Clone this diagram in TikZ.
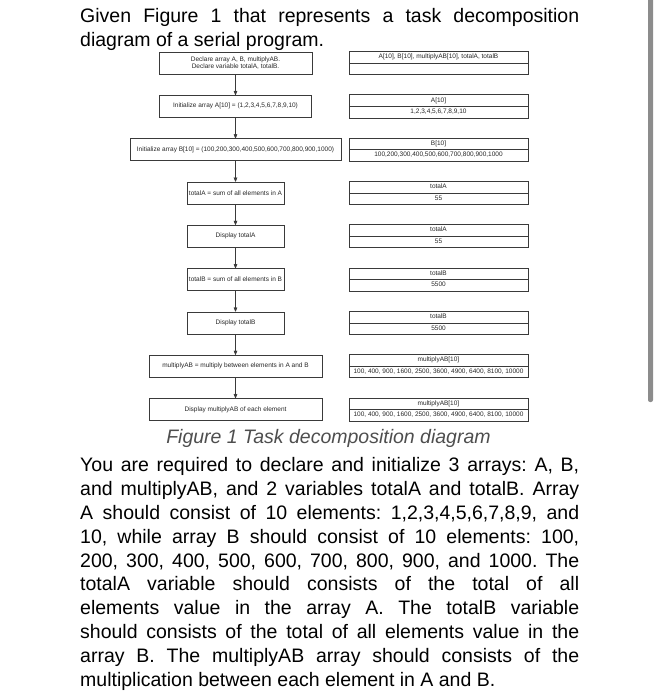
\documentclass[tikz,border=0pt]{standalone}
\usepackage{fontspec}
\setmainfont{Liberation Sans}
\usetikzlibrary{positioning}
\usetikzlibrary{arrows}
\usetikzlibrary{shapes.multipart}
\definecolor{boxline}{HTML}{3A3A3A}
\definecolor{captiongray}{HTML}{4E4E4E}
\definecolor{scrollgray}{HTML}{8C8C8C}
\newcommand{\memfont}{\fontsize{6.5}{7.8}\selectfont}
\newcommand{\memtext}[2]{\memfont\strut #1\nodepart{two}\memfont\strut #2}
\tolerance=10000
\hbadness=10000
\frenchspacing
\tikzset{x=1pt,y=-1pt, % One unit is one pixel of the page, y runs down
    para/.style=
    { % Sets the properties for the running text
        inner sep=0pt,
        text width=499pt,
        align=justify,
        font=\fontsize{19.5}{23.8}\selectfont
    },
    task/.style=
    { % Sets the properties for each task box
        draw=boxline,
        line width=0.6pt,
        minimum height=22pt,
        inner sep=1pt,
        align=center,
        text=black!85,
        font=\memfont
    },
    memory/.style=
    { % Sets the properties for each memory box
        rectangle split,
        rectangle split parts=2,
        draw=boxline,
        line width=0.6pt,
        minimum width=179pt,
        inner xsep=2pt,
        inner ysep=1.6pt,
        text=black!85
    },
    every edge/.style={ % Sets the properties for each step arrow
        draw=boxline,
        ->,>=stealth',
        line width=0.6pt
    }
}
\begin{document}
\begin{tikzpicture}
\useasboundingbox (0,0) rectangle (659,700);

\node [para,anchor=north west] (title) at (80,8.5)
    {Given Figure 1 that represents a task decomposition\linebreak diagram of a serial program.};

% task steps
\node [task,minimum width=153pt] (t1) at (235.5,63)   {Declare array A, B, multiplyAB.\\Declare variable totalA, totalB.};
\node [task,minimum width=152pt] (t2) at (235.5,106.3) {Initialize array A[10] = (1,2,3,4,5,6,7,8,9,10)};
\node [task,minimum width=211pt] (t3) at (235.5,149.6) {Initialize array B[10] = (100,200,300,400,500,600,700,800,900,1000)};
\node [task,minimum width=97pt]  (t4) at (235.5,192.9) {totalA = sum of all elements in A};
\node [task,minimum width=97pt]  (t5) at (235.5,236.2) {Display totalA};
\node [task,minimum width=97pt]  (t6) at (235.5,279.5) {totalB = sum of all elements in B};
\node [task,minimum width=97pt]  (t7) at (235.5,322.8) {Display totalB};
\node [task,minimum width=173pt] (t8) at (235.5,366.1) {multiplyAB = multiply between elements in A and B};
\node [task,minimum width=173pt] (t9) at (235.5,409.4) {Display multiplyAB of each element};

\draw
    (t1) edge (t2)
    (t2) edge (t3)
    (t3) edge (t4)
    (t4) edge (t5)
    (t5) edge (t6)
    (t6) edge (t7)
    (t7) edge (t8)
    (t8) edge (t9);

% memory after each step
\node [memory] (m1) at (438.5,63)    {\memtext{A[10], B[10], multiplyAB[10], totalA, totalB}{}};
\node [memory] (m2) at (438.5,106.3) {\memtext{A[10]}{1,2,3,4,5,6,7,8,9,10}};
\node [memory] (m3) at (438.5,149.6) {\memtext{B[10]}{100,200,300,400,500,600,700,800,900,1000}};
\node [memory] (m4) at (438.5,192.9) {\memtext{totalA}{55}};
\node [memory] (m5) at (438.5,236.2) {\memtext{totalA}{55}};
\node [memory] (m6) at (438.5,279.5) {\memtext{totalB}{5500}};
\node [memory] (m7) at (438.5,322.8) {\memtext{totalB}{5500}};
\node [memory] (m8) at (438.5,366.1) {\memtext{multiplyAB[10]}{100, 400, 900, 1600, 2500, 3600, 4900, 6400, 8100, 10000}};
\node [memory] (m9) at (438.5,409.4) {\memtext{multiplyAB[10]}{100, 400, 900, 1600, 2500, 3600, 4900, 6400, 8100, 10000}};

\node [anchor=base,inner sep=0pt,text=captiongray,font=\fontsize{19.5}{23.8}\selectfont\itshape] (caption) at (328.5,443)
    {Figure 1 Task decomposition diagram};

\node [para,anchor=north west] (body) at (80,457.5)
    {You are required to declare and initialize 3 arrays: A, B,\linebreak
    and multiplyAB, and 2 variables totalA and totalB. Array\linebreak
    A should consist of 10 elements: 1,2,3,4,5,6,7,8,9, and\linebreak
    10, while array B should consist of 10 elements: 100,\linebreak
    200, 300, 400, 500, 600, 700, 800, 900, and 1000. The\linebreak
    totalA variable should consists of the total of all\linebreak
    elements value in the array A. The totalB variable\linebreak
    should consists of the total of all elements value in the\linebreak
    array B. The multiplyAB array should consists of the\linebreak
    multiplication between each element in A and B.};

% scroll bar at the right edge
\fill [scrollgray,rounded corners=2pt] (648,-3) rectangle (653,402);
\end{tikzpicture}
\end{document}
